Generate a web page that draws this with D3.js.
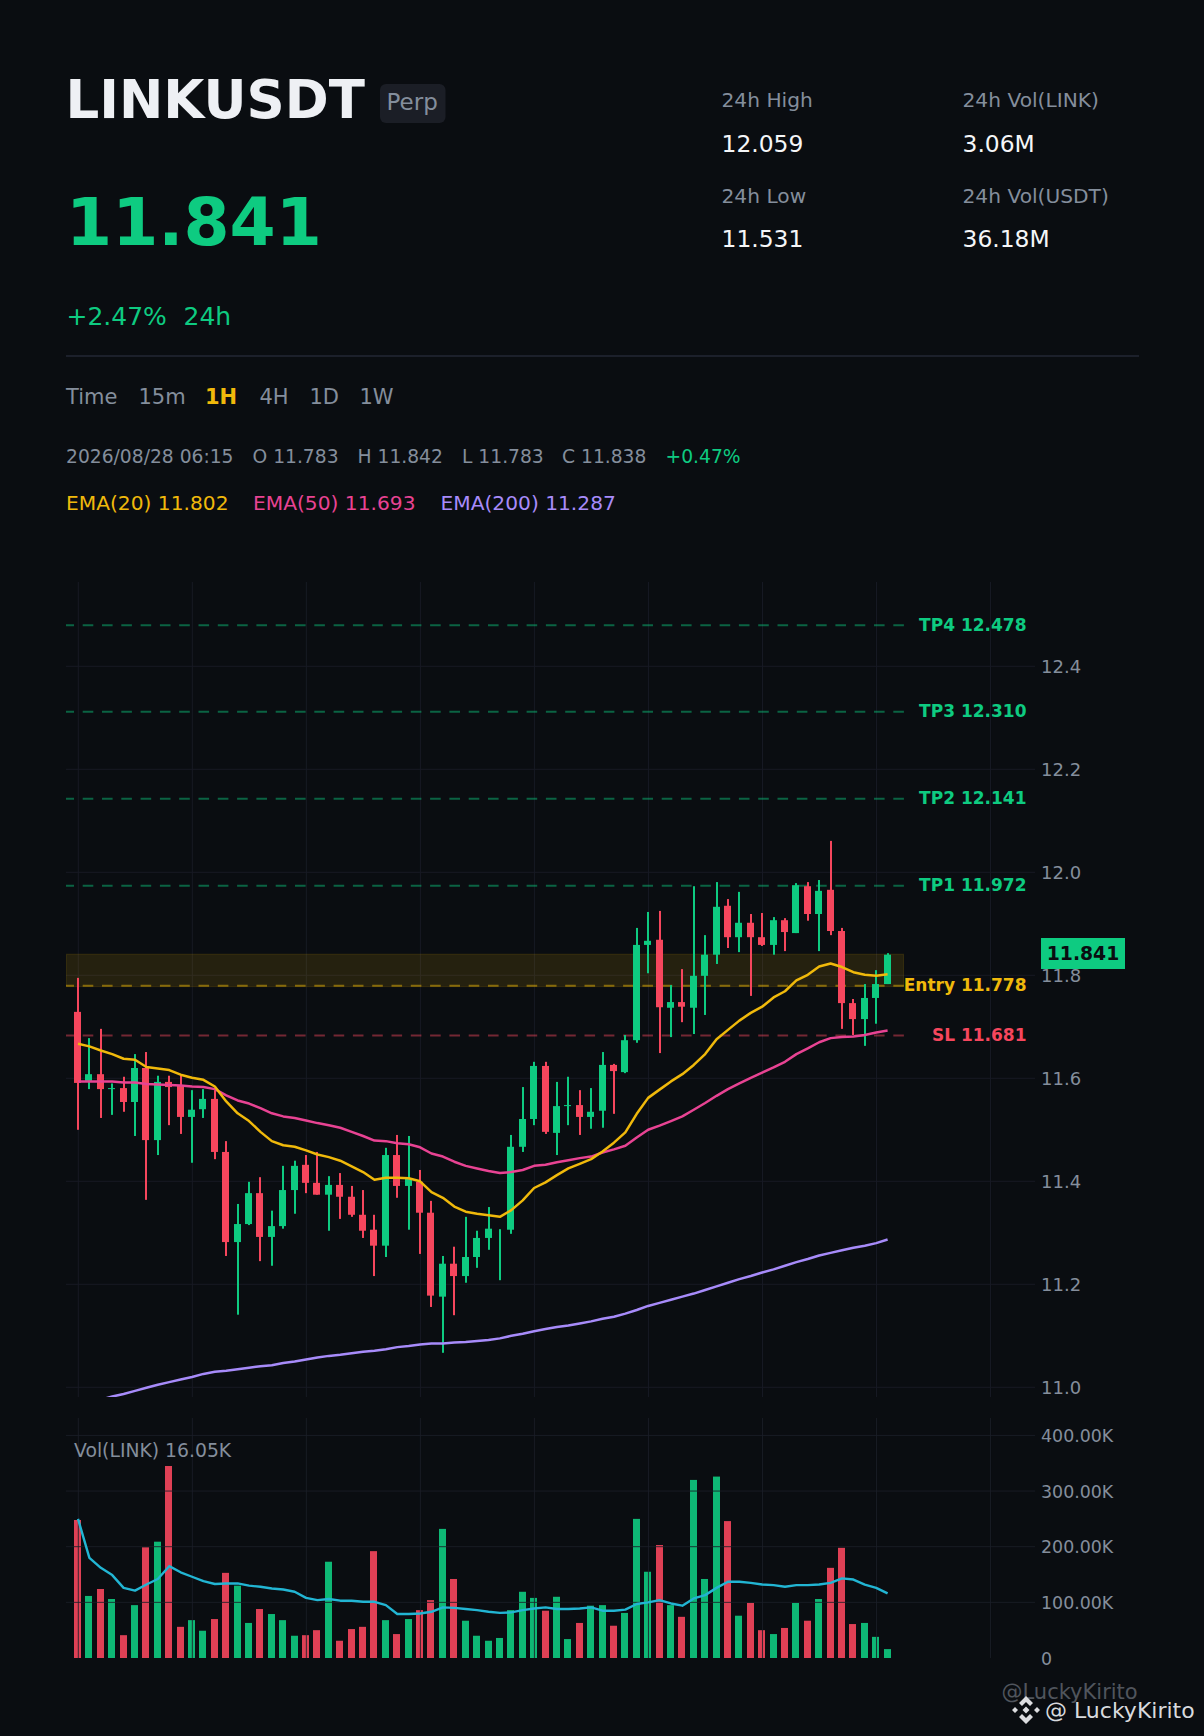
<!DOCTYPE html>
<html><head><meta charset="utf-8">
<script src="https://cdn.jsdelivr.net/npm/d3@7"></script>
<style>html,body{margin:0;padding:0;background:#0a0d11}svg{display:block}text{font-family:"DejaVu Sans",sans-serif}</style>
</head><body><svg id="c" width="1204" height="1736"></svg>
<script>
const opens=[11.729,11.595,11.608,11.579,11.581,11.554,11.620,11.480,11.593,11.587,11.525,11.540,11.560,11.457,11.282,11.317,11.377,11.292,11.313,11.383,11.432,11.397,11.374,11.393,11.370,11.335,11.306,11.275,11.451,11.391,11.399,11.339,11.176,11.240,11.216,11.253,11.290,11.307,11.306,11.467,11.521,11.624,11.494,11.546,11.548,11.525,11.537,11.626,11.612,11.674,11.859,11.869,11.737,11.748,11.737,11.799,11.840,11.935,11.874,11.902,11.874,11.859,11.907,11.882,11.973,11.919,11.966,11.886,11.746,11.715,11.756,11.783];
const highs=[11.795,11.678,11.696,11.590,11.603,11.647,11.651,11.605,11.605,11.605,11.577,11.579,11.577,11.478,11.356,11.399,11.408,11.343,11.430,11.440,11.451,11.457,11.410,11.416,11.391,11.383,11.335,11.465,11.490,11.488,11.422,11.362,11.255,11.273,11.331,11.304,11.350,11.307,11.490,11.583,11.632,11.632,11.593,11.603,11.577,11.581,11.651,11.628,11.684,11.892,11.923,11.925,11.781,11.812,11.973,11.878,11.981,11.948,11.962,11.919,11.921,11.913,11.911,11.979,11.981,11.985,12.061,11.892,11.754,11.783,11.810,11.843];
const lows=[11.500,11.579,11.523,11.529,11.535,11.488,11.364,11.451,11.509,11.492,11.436,11.523,11.443,11.255,11.141,11.315,11.245,11.236,11.308,11.337,11.377,11.374,11.304,11.327,11.331,11.290,11.216,11.253,11.368,11.306,11.259,11.156,11.067,11.140,11.203,11.232,11.267,11.208,11.298,11.457,11.509,11.492,11.451,11.509,11.490,11.502,11.504,11.531,11.610,11.669,11.804,11.649,11.680,11.709,11.686,11.723,11.822,11.853,11.845,11.760,11.857,11.840,11.847,11.882,11.906,11.847,11.878,11.696,11.684,11.663,11.706,11.783];
const closes=[11.591,11.608,11.579,11.581,11.554,11.620,11.480,11.593,11.583,11.525,11.539,11.560,11.457,11.282,11.317,11.377,11.292,11.313,11.383,11.430,11.397,11.374,11.393,11.370,11.335,11.304,11.275,11.451,11.391,11.405,11.339,11.178,11.240,11.216,11.253,11.290,11.308,11.307,11.467,11.521,11.624,11.496,11.546,11.548,11.525,11.535,11.626,11.614,11.674,11.859,11.867,11.738,11.748,11.739,11.799,11.840,11.933,11.874,11.902,11.874,11.859,11.907,11.884,11.975,11.919,11.964,11.886,11.746,11.715,11.756,11.783,11.840];
const volumes=[248,111.5,124,106,41,95,199,209,345,56,68,49,70,153,130,63,88,79,68,40,41,50,173,31,52,56,192,68,43,70,86,104,232,142,67,40,31,36,86,119,108,85,110,34,63,94,95,58,81,250,155,203,95,74,320,142,326,246,76,99,50,43,54,99,67,106,162,198,61,63,38,16];
const ema20=[11.667,11.662,11.654,11.647,11.638,11.636,11.622,11.619,11.616,11.607,11.601,11.597,11.584,11.555,11.532,11.517,11.496,11.478,11.470,11.467,11.460,11.452,11.447,11.440,11.429,11.418,11.403,11.407,11.407,11.406,11.400,11.379,11.368,11.351,11.341,11.337,11.334,11.331,11.344,11.363,11.387,11.398,11.412,11.425,11.434,11.443,11.458,11.475,11.495,11.531,11.562,11.578,11.594,11.608,11.626,11.647,11.676,11.694,11.712,11.727,11.739,11.757,11.769,11.790,11.801,11.817,11.823,11.816,11.806,11.801,11.799,11.802];
const ema50=[11.594,11.594,11.594,11.594,11.592,11.592,11.589,11.588,11.587,11.586,11.584,11.583,11.579,11.567,11.557,11.551,11.542,11.532,11.526,11.523,11.518,11.513,11.509,11.504,11.496,11.488,11.479,11.478,11.474,11.472,11.466,11.454,11.448,11.438,11.430,11.425,11.420,11.416,11.418,11.422,11.430,11.432,11.437,11.441,11.445,11.448,11.456,11.462,11.469,11.485,11.500,11.508,11.517,11.526,11.539,11.552,11.566,11.579,11.590,11.601,11.611,11.621,11.632,11.647,11.658,11.670,11.678,11.680,11.681,11.684,11.689,11.693];
const ema200=[10.964,10.970,10.976,10.982,10.987,10.993,10.999,11.005,11.010,11.015,11.020,11.026,11.030,11.032,11.035,11.038,11.041,11.043,11.047,11.050,11.054,11.058,11.061,11.063,11.066,11.069,11.071,11.074,11.078,11.080,11.083,11.085,11.085,11.087,11.088,11.090,11.092,11.095,11.100,11.104,11.109,11.113,11.117,11.120,11.124,11.128,11.133,11.137,11.143,11.150,11.158,11.164,11.170,11.176,11.182,11.189,11.196,11.203,11.210,11.216,11.223,11.229,11.236,11.243,11.249,11.256,11.261,11.266,11.271,11.275,11.280,11.287];
const volumeMA=[250,180,162,149,126,121,132,142,165,154,146,138,133,134,134,130,128,125,123,119,108,104,106,103,103,101,101,95,79,79,80,83,91,90,88,86,83,81,82,86,89,91,88,88,89,91,85,85,87,97,100,104,98,94,107,113,126,137,137,135,132,131,128,131,131,132,135,143,141,132,126,116];
const priceTicks=[11.0,11.2,11.4,11.6,11.8,12.0,12.2,12.4];
const volumeTicks=[0,100,200,300,400];
const timeTicks=[0,10,20,30,40,50,60,70,80];
const levelNames=["TP4","TP3","TP2","TP1","Entry","SL"];
const levelValues=[12.478,12.310,12.141,11.972,11.778,11.681];
const levelKinds=["tp","tp","tp","tp","entry","sl"];
const lastPrice=11.841;
const statRows=[["24h High","12.059","24h Vol(LINK)","3.06M"],["24h Low","11.531","24h Vol(USDT)","36.18M"]];
const tabs=["Time","15m","1H","4H","1D","1W"];
const ohlcInfo=["2026/08/28 06:15","O 11.783","H 11.842","L 11.783","C 11.838","+0.47%"];
const emaInfo=["EMA(20) 11.802","EMA(50) 11.693","EMA(200) 11.287"];

const BG="#0a0d11",GREEN="#0ecb81",RED="#f6465d",YEL="#f0b90b",GREY="#848e9c",GRID="#171a24";
const svg=d3.select("#c");
svg.append("rect").attr("width",1204).attr("height",1736).attr("fill",BG);
const T=(x,y,s,size,fill,w,anchor)=>svg.append("text").attr("x",x).attr("y",y).attr("font-size",size).attr("fill",fill).attr("font-weight",w||400).attr("text-anchor",anchor||"start").text(s);

// header
T(65.5,118,"LINKUSDT",53,"#eef0f4",700);
svg.append("rect").attr("x",380).attr("y",84).attr("width",65.5).attr("height",39).attr("rx",6).attr("fill","#1b1e26");
T(386.5,110,"Perp",23,GREY);
T(66,245,"11.841",66.3,GREEN,700);
T(66.5,325,"+2.47%",25,GREEN);
T(183.5,325,"24h",25,GREEN);
const statX=[721.5,962.5],statY=[[107,151.5],[203,247]];
statRows.forEach((r,j)=>{
  T(statX[0],statY[j][0],r[0],20.2,GREY);T(statX[0],statY[j][1],r[1],23.4,"#f5f6f8");
  T(statX[1],statY[j][0],r[2],20.2,GREY);T(statX[1],statY[j][1],r[3],23.4,"#f5f6f8");
});
svg.append("line").attr("x1",66).attr("x2",1139).attr("y1",356).attr("y2",356).attr("stroke","#1c202b").attr("stroke-width",2);
const tabX=[66,138.5,205,259.5,309.5,359.5];
tabs.forEach((t,i)=>T(tabX[i],404,t,21,t==="1H"?YEL:GREY,t==="1H"?700:400));
const infoX=[66,252.5,357.5,462,562,665.5];
ohlcInfo.forEach((t,i)=>T(infoX[i],463,t,18.7,i===5?GREEN:GREY));
const emaX=[66,253,440.5],emaC=[YEL,"#e84393","#a78bfa"];
emaInfo.forEach((t,i)=>T(emaX[i],510,t,20.2,emaC[i]));

// scales
const x=d3.scaleLinear().domain([0,71]).range([78,887.6]);
const y=d3.scaleLinear().domain([11,12.4]).range([1387.3,666.3]);
const yv=d3.scaleLinear().domain([0,400]).range([1658,1435.4]);
const PL=66,PR=1035,PT=582,PB=1397,VT=1418,VB=1658;
const defs=svg.append("defs");
defs.append("clipPath").attr("id","pc").append("rect").attr("x",PL).attr("y",PT).attr("width",PR-PL).attr("height",PB-PT);

// price grid + axis
const gridP=svg.append("g");
gridP.selectAll("line.h").data(priceTicks).join("line").attr("x1",PL).attr("x2",PR).attr("y1",d=>y(d)).attr("y2",d=>y(d)).attr("stroke",GRID);
gridP.selectAll("line.v").data(timeTicks).join("line").attr("x1",d=>x(d)+.3).attr("x2",d=>x(d)+.3).attr("y1",PT).attr("y2",PB).attr("stroke",GRID);
const ax=svg.append("g").attr("transform","translate(1035,0)").call(d3.axisRight(y).tickValues(priceTicks).tickSize(0).tickPadding(6).tickFormat(d3.format(".1f")));
ax.select(".domain").remove();
ax.selectAll("text").attr("font-size",18).attr("fill",GREY).attr("font-family","DejaVu Sans").attr("dy","0.32em");

// entry zone
svg.append("rect").attr("x",PL+.5).attr("y",y(lastPrice)).attr("width",904-PL-1).attr("height",y(levelValues[4])-y(lastPrice))
  .attr("fill",YEL).attr("fill-opacity",.12).attr("stroke",YEL).attr("stroke-opacity",.13);

// levels
const kindC={tp:GREEN,entry:YEL,sl:RED},kindO={tp:.45,entry:.48,sl:.45};
svg.append("g").selectAll("line").data(levelValues).join("line")
  .attr("x1",PL).attr("x2",904).attr("y1",d=>y(d)-1).attr("y2",d=>y(d)-1)
  .attr("stroke",(d,i)=>kindC[levelKinds[i]]).attr("stroke-opacity",(d,i)=>kindO[levelKinds[i]])
  .attr("stroke-width",2).attr("stroke-dasharray","10.6 8.7").attr("stroke-dashoffset",2.6);
svg.append("g").selectAll("text").data(levelValues).join("text")
  .attr("x",1026.5).attr("y",(d,i)=>y(d)+(levelKinds[i]==="entry"?4:4.5)).attr("text-anchor","end").attr("font-size",17).attr("font-weight",700)
  .attr("fill",(d,i)=>kindC[levelKinds[i]]).text((d,i)=>levelNames[i]+" "+d.toFixed(3));

// candles
const idx=d3.range(opens.length);
const col=i=>closes[i]>=opens[i]?GREEN:RED;
const px=i=>Math.round(x(i));
const cg=svg.append("g");
cg.selectAll("rect.w").data(idx).join("rect").attr("class","w")
  .attr("x",i=>px(i)-1).attr("width",2).attr("y",i=>y(highs[i])).attr("height",i=>y(lows[i])-y(highs[i])).attr("fill",col);
cg.selectAll("rect.b").data(idx.filter(i=>opens[i]!==closes[i])).join("rect").attr("class","b")
  .attr("x",i=>px(i)-4).attr("width",7).attr("y",i=>y(Math.max(opens[i],closes[i])))
  .attr("height",i=>Math.max(.8,Math.abs(y(opens[i])-y(closes[i])))).attr("fill",col);

// EMAs
const lineP=d3.line().x((d,i)=>x(i)).y(d=>y(d));
const lg=svg.append("g").attr("clip-path","url(#pc)");
[[ema200,"#a78bfa"],[ema50,"#e84393"],[ema20,YEL]].forEach(([a,c])=>{
  lg.append("path").attr("d",lineP(a)).attr("fill","none").attr("stroke",c).attr("stroke-width",2.5).attr("stroke-linejoin","round");
});

// price tag
svg.append("rect").attr("x",1041).attr("y",938).attr("width",84).attr("height",31).attr("fill",GREEN);
T(1083,959.5,lastPrice.toFixed(3),18.8,"#0a0d11",700,"middle");

// volume bars
svg.append("g").selectAll("rect").data(idx).join("rect")
  .attr("x",i=>px(i)-4).attr("width",7).attr("y",i=>yv(volumes[i])).attr("height",i=>yv(0)-yv(volumes[i]))
  .attr("fill",col).attr("fill-opacity",.9);
// volume grid
const gridV=svg.append("g");
gridV.selectAll("line.h").data(volumeTicks.filter(d=>d>0)).join("line").attr("x1",PL).attr("x2",PR).attr("y1",d=>yv(d)).attr("y2",d=>yv(d)).attr("stroke","#1b1e28").attr("stroke-opacity",.85);
gridV.selectAll("line.v").data(timeTicks).join("line").attr("x1",d=>x(d)+.3).attr("x2",d=>x(d)+.3).attr("y1",VT).attr("y2",VB).attr("stroke","#1b1e28").attr("stroke-opacity",.85);
const av=svg.append("g").attr("transform","translate(1035,0)").call(d3.axisRight(yv).tickValues(volumeTicks).tickSize(0).tickPadding(6).tickFormat(d=>d===0?"0":d3.format(".2f")(d)+"K"));
av.select(".domain").remove();
av.selectAll("text").attr("font-size",17.4).attr("fill",GREY).attr("font-family","DejaVu Sans").attr("dy","0.36em");
svg.append("path").attr("d",d3.line().x((d,i)=>x(i)).y(d=>yv(d))(volumeMA)).attr("fill","none").attr("stroke","#22b5d3").attr("stroke-width",2.4).attr("stroke-linejoin","round");
T(74,1456.5,"Vol(LINK) 16.05K",18.8,GREY);

// watermarks
T(1001.5,1699,"@LuckyKirito",21,"#50555d");
T(1045,1718,"@ LuckyKirito",22,"#d8dade");
const lg2=svg.append("g").attr("transform","translate(1026,1710)").attr("fill","#dcdde0");
lg2.append("path").attr("d","M0,-14L7,-7L4,-4L0,-8L-4,-4L-7,-7ZM-14,0L-11,-3L-8,0L-11,3ZM14,0L11,-3L8,0L11,3ZM0,-3.5L3.5,0L0,3.5L-3.5,0ZM0,14L7,7L4,4L0,8L-4,4L-7,7Z");
</script></body></html>
